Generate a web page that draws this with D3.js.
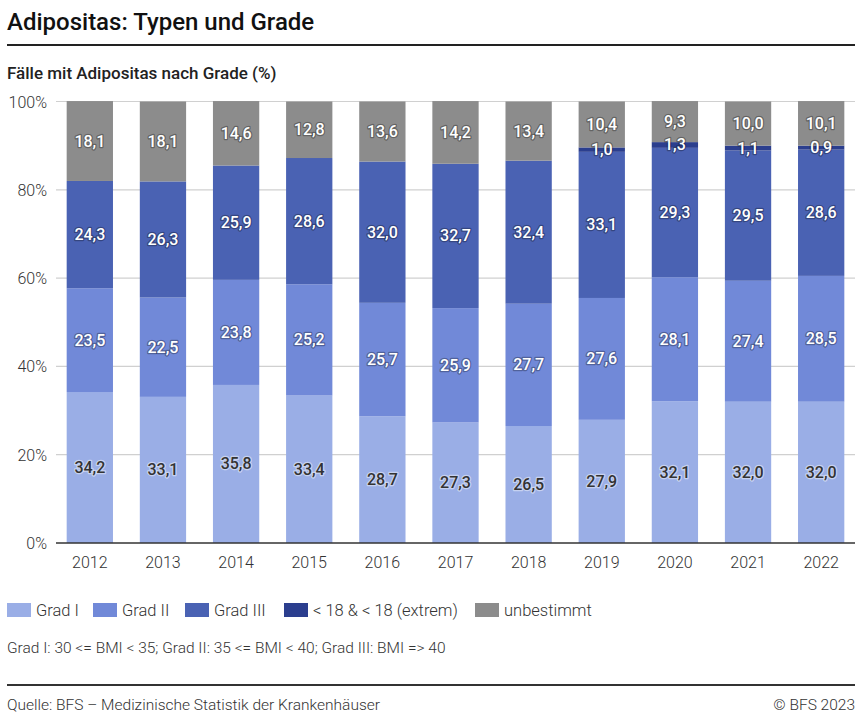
<!DOCTYPE html>
<html><head><meta charset="utf-8">
<script src="https://cdn.jsdelivr.net/npm/d3@7"></script>
<style>
body{margin:0;background:#fff;}
svg{font-family:Roboto,"Noto Sans",sans-serif;}
</style></head><body>
<svg id="c" width="862" height="721"></svg>
<script>
const years = ["2012","2013","2014","2015","2016","2017","2018","2019","2020","2021","2022"];
const gradI = [34.2,33.1,35.8,33.4,28.7,27.3,26.5,27.9,32.1,32.0,32.0];
const gradII = [23.5,22.5,23.8,25.2,25.7,25.9,27.7,27.6,28.1,27.4,28.5];
const gradIII = [24.3,26.3,25.9,28.6,32.0,32.7,32.4,33.1,29.3,29.5,28.6];
const extrem = [0,0,0,0,0,0,0,1.0,1.3,1.1,0.9];
const unbestimmt = [18.1,18.1,14.6,12.8,13.6,14.2,13.4,10.4,9.3,10.0,10.1];
const seriesNames = ["Grad I","Grad II","Grad III","< 18 & < 18 (extrem)","unbestimmt"];
const seriesValues = [gradI,gradII,gradIII,extrem,unbestimmt];
const colors = ["#9aaee6","#7189d8","#4a62b3","#2b3e8e","#8c8c8c"];
const yTicks = [0,20,40,60,80,100];

(function(){
const svg = d3.select("#c");
const pLeft = 56, pRight = 855, pTop = 101.5, pBottom = 543;

svg.append("text").attr("x",7).attr("y",30).attr("font-size",24).attr("font-weight",500).attr("fill","#111").text("Adipositas: Typen und Grade");
svg.append("line").attr("x1",7).attr("x2",855).attr("y1",45).attr("y2",45).attr("stroke","#222").attr("stroke-width",2);
svg.append("text").attr("x",7).attr("y",79).attr("font-size",17).attr("font-weight",500).attr("fill","#222").text("Fälle mit Adipositas nach Grade (%)");

const x = d3.scaleBand().domain(years).range([pLeft,pRight]).paddingInner(0.367).paddingOuter(0.146);
const y = d3.scaleLinear().domain([0,100]).range([pBottom,pTop]);

const g = svg.append("g");
g.selectAll("line.grid").data(yTicks.filter(t=>t>0)).join("line")
  .attr("x1",pLeft).attr("x2",pRight).attr("y1",d=>y(d)).attr("y2",d=>y(d))
  .attr("stroke","#d0d0d0").attr("stroke-width",1.2);
g.selectAll("text.yt").data(yTicks).join("text")
  .attr("x",47).attr("y",d=>y(d)+6).attr("text-anchor","end")
  .attr("font-size",16).attr("font-weight",300).attr("fill","#333")
  .text(d=>d+"%");

const rows = years.map((yr,i)=>{const o={year:yr}; seriesNames.forEach((s,j)=>o[s]=seriesValues[j][i]); return o;});
const stack = d3.stack().keys(seriesNames)(rows);

const layers = svg.append("g").selectAll("g").data(stack).join("g").attr("fill",(d,i)=>colors[i]);
layers.selectAll("rect").data(d=>d.filter(p=>p[1]-p[0]>0)).join("rect")
  .attr("x",d=>x(d.data.year)).attr("width",x.bandwidth())
  .attr("y",d=>y(d[1])).attr("height",d=>y(d[0])-y(d[1]));

const fmt = v => v.toFixed(1).replace(".",",");
const lab = svg.append("g");
stack.forEach((layer,i)=>{
  layer.forEach((p,j)=>{
    const v = seriesValues[i][j];
    if(!(v>0)) return;
    const cy = y((p[0]+p[1])/2);
    const dark = i===0;
    lab.append("text")
      .attr("x",x(p.data.year)+x.bandwidth()/2).attr("y",cy+5.5)
      .attr("text-anchor","middle").attr("font-size",16).attr("font-weight",500)
      .attr("fill",dark?"#333":"#fff")
      .style("paint-order","stroke")
      .attr("stroke",dark?"rgba(255,255,255,0.45)":"rgba(0,0,0,0.3)")
      .attr("stroke-width",2.5).attr("stroke-linejoin","round")
      .text(fmt(v));
  });
});

svg.append("line").attr("x1",pLeft).attr("x2",pRight).attr("y1",y(0)).attr("y2",y(0)).attr("stroke","#333").attr("stroke-width",1.5);
svg.append("g").selectAll("text").data(years).join("text")
  .attr("x",d=>x(d)+x.bandwidth()/2).attr("y",568).attr("text-anchor","middle")
  .attr("font-size",16).attr("font-weight",300).attr("fill","#333").text(d=>d);

const legX = [7,93,185,284,475];
const leg = svg.append("g").selectAll("g").data(seriesNames).join("g")
  .attr("transform",(d,i)=>`translate(${legX[i]},603)`);
leg.append("rect").attr("width",24).attr("height",14).attr("fill",(d,i)=>colors[i]);
leg.append("text").attr("x",29).attr("y",13).attr("font-size",16.5).attr("font-weight",300).attr("fill","#333").text(d=>d);

svg.append("text").attr("x",7).attr("y",653).attr("font-size",15.5).attr("font-weight",300).attr("fill","#333")
  .text("Grad I: 30 <= BMI < 35; Grad II: 35 <= BMI < 40; Grad III: BMI => 40");

svg.append("line").attr("x1",7).attr("x2",855).attr("y1",685).attr("y2",685).attr("stroke","#333").attr("stroke-width",2);
svg.append("text").attr("x",7).attr("y",710).attr("font-size",15.5).attr("font-weight",300).attr("fill","#333").text("Quelle: BFS – Medizinische Statistik der Krankenhäuser");
svg.append("text").attr("x",855).attr("y",710).attr("text-anchor","end").attr("font-size",15.5).attr("font-weight",300).attr("fill","#333").text("© BFS 2023");
})();
</script>
</body></html>
